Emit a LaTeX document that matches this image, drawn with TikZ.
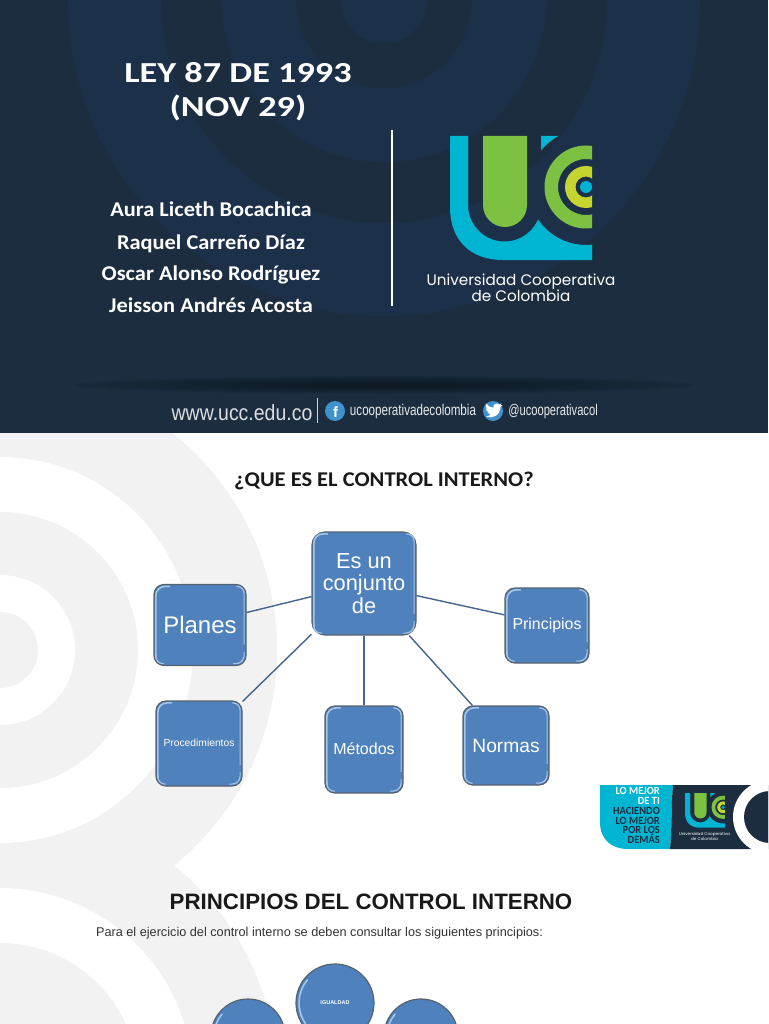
\documentclass[tikz,border=0pt]{standalone}
\usepackage{fontspec}
\usepackage{graphicx}
\setmainfont{Carlito}
\newfontfamily\arial{Liberation Sans}
\newfontfamily\pop{Poppins}
\newcommand{\fsz}[2]{\fontsize{#1}{#2}\selectfont}
\definecolor{navy}{HTML}{1B2D3F}
\definecolor{ringblue}{HTML}{1C3049}
\definecolor{logoteal}{HTML}{00B5D1}
\definecolor{logogreen}{HTML}{7CC142}
\definecolor{logolime}{HTML}{C3D52E}
\definecolor{ringgrey}{HTML}{F2F2F2}
\definecolor{boxblue}{HTML}{4F81BD}
\definecolor{boxline}{HTML}{56626E}
\definecolor{hilite}{HTML}{A3C6EA}
\definecolor{linkblue}{HTML}{43658F}
\definecolor{iconblue}{HTML}{3F92CB}
\tikzset{
  box/.style={draw=boxline,line width=1.2pt,fill=boxblue,text=white,inner sep=0pt,align=center,font=\arial,rounded corners=10pt},
  orb/.style={circle,draw=boxline,line width=1.2pt,fill=boxblue,text=white,inner sep=0pt,align=center,font=\arial},
  link/.style={draw=linkblue,line width=1.4pt},
  hl/.style={draw=hilite,line width=1.6pt,line cap=round},
  heading/.style={inner sep=0pt,align=center},
  lbl/.style={inner sep=0pt,text=white,align=center},
  person/.style={inner sep=0pt,text=white,anchor=base,font=\fsz{21}{24}\bfseries}
}
% the UCC mark, drawn in page pixels
\newcommand{\uccmark}{%
  \begin{scope}[even odd rule]
    \clip (440,125) rectangle (600,270)
      (468,125) -- (468,205) arc[start angle=180,end angle=0,radius=36.5] -- (541,125) -- cycle;
    \begin{scope}[even odd rule]
    \clip (440,125) rectangle (600,270) (586,187) circle[radius=58];
    \fill[logoteal] (450,136) -- (450,207) .. controls (450,240) and (470,260) .. (503,260)
      -- (592,260) -- (592,136) -- cycle;
    \end{scope}
  \end{scope}
  \fill[logogreen] (483,136) -- (483,205) arc[start angle=180,end angle=0,radius=22] -- (527,136) -- cycle;
  \begin{scope}
    \clip (530,130) rectangle (592,245);
    \fill[logogreen,even odd rule] (586,187) circle[radius=41.5] (586,187) circle[radius=28];
    \fill[logolime,even odd rule] (586,187) circle[radius=21] (586,187) circle[radius=10.5];
    \fill[logoteal] (586,187) circle[radius=6];
  \end{scope}
}
\begin{document}
\begin{tikzpicture}[x=1pt,y=-1pt]
\useasboundingbox (0,0) rectangle (768,1024);
\begin{scope}
\clip (0,0) rectangle (768,1024);
\fill[white] (0,0) rectangle (768,1024);

% ---------- slide 1
\begin{scope}
  \clip (0,0) rectangle (768,433);
  \fill[navy] (0,0) rectangle (768,433);
  \fill[ringblue] (384,0) circle[radius=316];
  \fill[navy] (384,0) circle[radius=223];
  \fill[ringblue] (384,0) circle[radius=162];
  \fill[navy] (384,0) circle[radius=88];
  \fill[ringblue] (384,0) circle[radius=43];
  \foreach \k in {1,0.9,...,0.1}
    \fill[black,opacity=0.05] (384,385) ellipse[x radius=\k*310,y radius=\k*9];
\end{scope}

\node[lbl,font=\fsz{29}{34}\bfseries] (ley) at (238,92) {\scalebox{1.25}[1]{LEY 87 DE 1993}\\\scalebox{1.25}[1]{(NOV 29)}};
\node[person] (n1) at (211,217) {\scalebox{1.065}[1]{Aura Liceth Bocachica}};
\node[person] (n2) at (211,249) {\scalebox{1.065}[1]{Raquel Carreño Díaz}};
\node[person] (n3) at (211,280) {\scalebox{1.065}[1]{Oscar Alonso Rodríguez}};
\node[person] (n4) at (211,312.5) {\scalebox{1.065}[1]{Jeisson Andrés Acosta}};
\draw[white,line width=1.1pt] (392,130) -- (392,306);

\uccmark
\node[lbl,font=\pop\fsz{15.2}{15.5}] (uni) at (521,288) {Universidad Cooperativa\\de Colombia};

\node[lbl,text=white!85!navy,font=\arial\fsz{22}{24}] (web) at (242,413) {\scalebox{0.885}[1]{www.ucc.edu.co}};
\draw[white!80!navy,line width=1pt] (317,398) -- (317,423);
\fill[iconblue] (335,411) circle[radius=10];
\node[lbl,font=\arial\bfseries\fsz{15}{16}] (fb) at (335.5,412) {f};
\node[lbl,text=white!90!navy,font=\arial\fsz{15.5}{16}] (face) at (413,411) {\scalebox{0.75}[1]{ucooperativadecolombia}};
\fill[iconblue] (493,411) circle[radius=10];
\fill[white] (486,416.5) .. controls (492,419) and (500,416) .. (500.5,407)
  -- (502.5,405) -- (500,405.5) -- (501.5,403.5) -- (499,404.5)
  .. controls (497,402.5) and (492.5,404) .. (493.5,407.5)
  .. controls (490,407.5) and (487.5,405.5) .. (486,403.5)
  .. controls (485,406) and (486,408) .. (487.5,409)
  -- (485.8,408.6) .. controls (486,410.5) and (487,411.7) .. (489,412.3)
  -- (487.4,412.4) .. controls (488,413.7) and (489,414.4) .. (490.5,414.6)
  .. controls (489.3,415.7) and (487.8,416.4) .. (486,416.5) -- cycle;
\node[lbl,text=white!90!navy,font=\arial\fsz{15.5}{16}] (tw) at (553,411) {\scalebox{0.72}[1]{@ucooperativacol}};

% ---------- slide 2 and 3 background rings
\begin{scope}
  \clip (0,433) rectangle (768,864);
  \fill[ringgrey] (0,650) circle[radius=277];
  \fill[white] (0,650) circle[radius=193];
  \fill[ringgrey] (0,650) circle[radius=138];
  \fill[white] (0,650) circle[radius=75];
  \fill[ringgrey] (0,650) circle[radius=38];
\end{scope}
\begin{scope}
  \clip (0,864) rectangle (768,1024);
  \fill[ringgrey] (0,1081) circle[radius=277];
  \fill[white] (0,1081) circle[radius=193];
  \fill[ringgrey] (0,1081) circle[radius=138];
\end{scope}

% ---------- slide 2
\node[heading,font=\bfseries\fsz{21}{24},text=black!90] (q) at (384,481) {\scalebox{1.07}[1]{¿QUE ES EL CONTROL INTERNO?}};

\node[box,rounded corners=13pt,minimum width=104pt,minimum height=103pt,font=\arial\fsz{21.8}{22.5}] (c) at (364,583.5) {Es un\\conjunto\\de};
\node[box,minimum width=92pt,minimum height=81pt,font=\arial\fsz{24}{26}] (pl) at (200,625) {Planes};
\node[box,minimum width=84pt,minimum height=75pt,font=\arial\fsz{15.9}{16}] (pr) at (547,625.5) {\raisebox{-1.5pt}{Principios}};
\node[box,minimum width=86pt,minimum height=85pt,font=\arial\fsz{10.3}{11}] (pc) at (199,743.5) {\raisebox{1.5pt}{Procedimientos}};
\node[box,minimum width=78pt,minimum height=87pt,font=\arial\fsz{16}{16}] (me) at (364,749.5) {\raisebox{1.5pt}{Métodos}};
\node[box,minimum width=86pt,minimum height=79pt,font=\arial\fsz{19.2}{19}] (no) at (506,745.5) {Normas};

\foreach \n in {c,pl,pr,pc,me,no}{
  \draw[hl,rounded corners=9pt] ([xshift=16pt,yshift=-2.5pt]\n.north west) -| ([xshift=2.5pt,yshift=9pt]\n.south west);
  \draw[hl,line width=1.2pt,rounded corners=7pt] ([xshift=2.5pt,yshift=12pt]\n.south west) |- ([xshift=10pt,yshift=2.5pt]\n.south west);
  \draw[hl,line width=1.2pt,rounded corners=7pt] ([xshift=-10pt,yshift=-2.5pt]\n.north east) -| ([xshift=-2.5pt,yshift=22pt]\n.south east);
  \draw[hl,line width=1.2pt,rounded corners=8pt] ([xshift=-2.5pt,yshift=14pt]\n.south east) |- ([xshift=-13pt,yshift=2.5pt]\n.south east);
}

\draw[link] (pl.15) -- (c.194);
\draw[link] (c.-13.5) -- (pr.166);
\draw[link] (pc.44.5) -- (c.224.7);
\draw[link] (c.south) -- (me.north);
\draw[link] (c.-49) -- (no.130.7);

% ---------- banner
\fill[logoteal] (673,785) -- (600,785) -- (600,822) .. controls (600,840) and (612,849) .. (628,849) -- (670,849) .. controls (672,830) and (671,805) .. (673,785) -- cycle;
\fill[navy] (673,785) .. controls (671,805) and (672,830) .. (670,849) -- (768,849) -- (768,785) -- cycle;
\fill[white] (770,817) circle[radius=37];
\fill[navy] (770,817) circle[radius=26];
\begin{scope}[shift={(685,793)},scale=0.28,shift={(-450,-136)}]
  \uccmark
\end{scope}
\node[lbl,font=\pop\fsz{4.1}{5.6}] (minilogo) at (704.5,836.5) {Universidad Cooperativa\\de Colombia};
\node[inner sep=0pt,align=right,anchor=north east,font=\bfseries\fsz{11}{9.7}] (motto) at (660,787.5)
  {\scalebox{0.95}[1]{\textcolor{white}{LO MEJOR}}\\\scalebox{0.95}[1]{\textcolor{white}{DE TI}}\\\scalebox{0.95}[1]{\textcolor{navy}{HACIENDO}}\\\scalebox{0.95}[1]{\textcolor{navy}{LO MEJOR}}\\\scalebox{0.95}[1]{\textcolor{navy}{POR LOS}}\\\scalebox{0.95}[1]{\textcolor{navy}{DEMÁS}}};

% ---------- slide 3
\node[heading,font=\arial\bfseries\fsz{22.3}{24},text=black!90] (p) at (371,901.5) {PRINCIPIOS DEL CONTROL INTERNO};
\node[heading,font=\arial\fsz{12.7}{14},text=black!80] (s) at (319.5,933) {Para el ejercicio del control interno se deben consultar los siguientes principios:};

\node[orb,minimum size=78pt,font=\arial\bfseries\fsz{5.5}{7}] (ig) at (335,1003) {IGUALDAD};
\node[orb,minimum size=74pt] (o1) at (248,1036) {};
\node[orb,minimum size=74pt] (o2) at (421,1036) {};
\draw[hl] (ig.center) ++(145:36) arc[start angle=145,end angle=220,radius=36];
\draw[hl] (o1.center) ++(145:34) arc[start angle=145,end angle=220,radius=34];
\draw[hl] (o2.center) ++(145:34) arc[start angle=145,end angle=220,radius=34];
\end{scope}
\end{tikzpicture}
\end{document}
